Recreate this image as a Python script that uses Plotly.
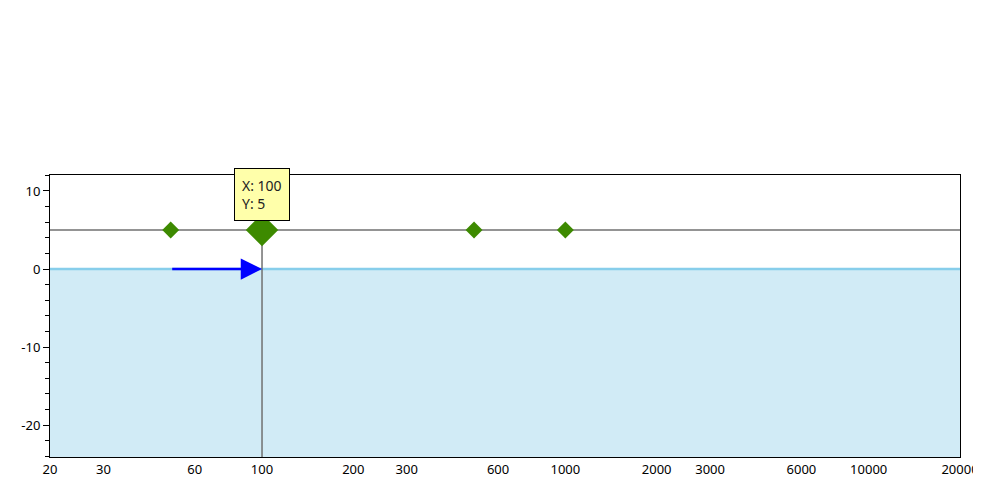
import math
import plotly.graph_objects as go

point_x = [50, 500, 1000]
point_y = [5, 5, 5]
sel_x = [100]
sel_y = [5]
level_x = [20, 20000]
level_y = [0, 0]
floor_y = [-30, -30]
vline_y = [-30, 30]
tick_vals = [20, 30, 60, 100, 200, 300, 600, 1000, 2000, 3000, 6000, 10000, 20000]
tick_text = [str(v) for v in tick_vals]
y_tick_vals = [-20, -10, 0, 10]
y_tick_text = ["-20", "-10", "0", "10"]
arrow_from = 50

fig = go.Figure()
fig.add_trace(go.Scatter(x=level_x, y=floor_y, mode="lines", line=dict(width=0), hoverinfo="skip"))
fig.add_trace(go.Scatter(x=level_x, y=level_y, mode="lines", fill="tonexty",
                         fillcolor="#d1ebf6", line=dict(color="#87ceeb", width=2.5)))
fig.add_trace(go.Scatter(x=level_x, y=[sel_y[0]] * 2, mode="lines",
                         line=dict(color="#707070", width=1.5)))
fig.add_trace(go.Scatter(x=[sel_x[0]] * 2, y=vline_y, mode="lines",
                         line=dict(color="#707070", width=1.5)))
fig.add_trace(go.Scatter(x=point_x, y=point_y, mode="markers",
                         marker=dict(symbol="diamond", size=13, color="#3d8a00")))
fig.add_trace(go.Scatter(x=sel_x, y=sel_y, mode="markers",
                         marker=dict(symbol="diamond", size=25, color="#3d8a00")))
fig.add_annotation(x=math.log10(sel_x[0]), y=0, ax=math.log10(arrow_from), ay=0,
                   xref="x", yref="y", axref="x", ayref="y", text="", showarrow=True,
                   arrowhead=2, arrowsize=1.7, arrowwidth=2.5, arrowcolor="#0000ff")
fig.add_annotation(x=math.log10(sel_x[0]), y=sel_y[0], xref="x", yref="y",
                   text="X: %d<br>Y: %d" % (sel_x[0], sel_y[0]), showarrow=False,
                   yanchor="bottom", yshift=9, align="left",
                   bgcolor="#ffffaa", bordercolor="#000000", borderwidth=1, borderpad=7,
                   font=dict(size=14, color="#222", family="Noto Sans"))
fig.update_layout(
    width=981, height=484, showlegend=False,
    margin=dict(l=42, r=29, t=167, b=35),
    paper_bgcolor="white", plot_bgcolor="white",
    font=dict(family="Noto Sans", size=13, color="black"),
    xaxis=dict(type="log", range=[math.log10(20), math.log10(20000)], tickvals=tick_vals,
               ticktext=tick_text, showgrid=False, zeroline=False, ticks="", automargin=False,
               showline=True, linecolor="black", mirror=True, tickfont=dict(size=13)),
    yaxis=dict(range=[-24.1, 12.05], tickvals=y_tick_vals, ticktext=y_tick_text,
               showgrid=False, zeroline=False, automargin=False,
               ticks="outside", ticklen=6, tickcolor="black",
               minor=dict(dtick=2, ticks="outside", ticklen=4, tickcolor="black"),
               showline=True, linecolor="black", mirror=True, tickfont=dict(size=13)),
)
fig.write_html("out.html")
